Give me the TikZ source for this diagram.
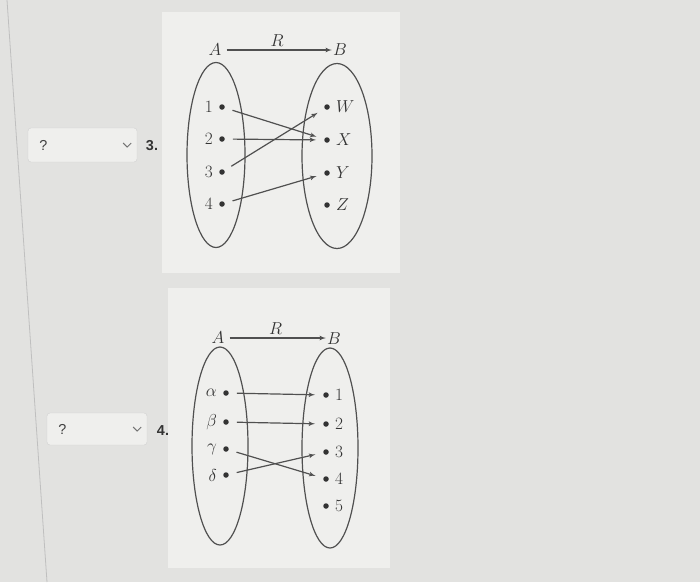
\documentclass[tikz,border=0pt]{standalone}
\usepackage{fontspec}
\newfontfamily\uifont{Liberation Sans}
\usetikzlibrary{shapes,arrows,positioning}

\definecolor{pagebg}{HTML}{E2E2E0}
\definecolor{cardbg}{HTML}{EFEFED}
\definecolor{inkgray}{HTML}{505050}

\begin{document}
\begin{tikzpicture}[x=1pt, y=-1pt,
    card/.style={rectangle, fill=cardbg, inner sep=0pt},
    set/.style={ellipse, draw=inkgray, line width=1.2pt, inner sep=0pt},
    elem/.style={circle, fill=black!80, inner sep=0pt, minimum size=5.5pt},
    setname/.style={font=\LARGE, text=black!80, inner sep=1pt},
    dropdown/.style={rectangle, draw=black!18, fill=cardbg, rounded corners=3pt, inner sep=0pt},
    arrow/.style={draw=inkgray, line width=1.2pt, -latex', shorten <=8pt, shorten >=8pt},
    every label/.style={font=\LARGE, text=black!80, inner sep=1pt},
    label distance=5pt]

    % Page background and the left border of the sheet
    \fill [pagebg] (0,0) rectangle (700,582);
    \useasboundingbox (0,0) rectangle (700,582);
    \draw [black!25, line width=0.8pt] (7,0) -- (47,582);

    % Cards holding the two pictures
    \node [card, minimum width=238pt, minimum height=261pt] (card3) at (281,142.5) {};
    \node [card, minimum width=222pt, minimum height=280pt] (card4) at (279,428) {};

    % Dropdown for question 3
    \node [dropdown, minimum width=109pt, minimum height=34pt] (drop3) at (82.5,145) {};
    \node [right=8pt of drop3.west, font=\uifont\Large, text=black!75] (ask3) {?};
    \draw [black!55, line width=1pt] (drop3.east) ++(-14,-2) -- ++(4,4) -- ++(4,-4);
    \node [font=\uifont\Large\bfseries, text=black!80] (num3) at (152,146) {3.};

    % Dropdown for question 4
    \node [dropdown, minimum width=100pt, minimum height=32pt] (drop4) at (97,429) {};
    \node [right=8pt of drop4.west, font=\uifont\Large, text=black!75] (ask4) {?};
    \draw [black!55, line width=1pt] (drop4.east) ++(-14,-2) -- ++(4,4) -- ++(4,-4);
    \node [font=\uifont\Large\bfseries, text=black!80] (num4) at (163,431) {4.};

    % Relation 3: sets A and B
    \node [setname] (A3) at (215,50) {$A$};
    \node [setname] (B3) at (340,50) {$B$};
    \draw [draw=inkgray, line width=1.2pt, -latex', shorten <=4pt] (A3) -- node [midway, above, font=\LARGE, text=black!80] {$R$} (B3);
    \node [set, minimum width=58pt, minimum height=185pt] (setA3) at (216,155) {};
    \node [set, minimum width=70pt, minimum height=185pt] (setB3) at (337,156) {};

    % Relation 3: elements
    \node [elem, label=left:$1$] (a1) at (222,107) {};
    \node [elem, label=left:$2$] (a2) at (222,139) {};
    \node [elem, label=left:$3$] (a3) at (222,172) {};
    \node [elem, label=left:$4$] (a4) at (222,204) {};
    \node [elem, label=right:$W$] (bW) at (327,107) {};
    \node [elem, label=right:$X$] (bX) at (327,140) {};
    \node [elem, label=right:$Y$] (bY) at (327,173) {};
    \node [elem, label=right:$Z$] (bZ) at (327,205) {};

    % Relation 3: pairs
    \draw [arrow] (a1) -- (bX);
    \draw [arrow] (a2) -- (bX);
    \draw [arrow] (a3) -- (bW);
    \draw [arrow] (a4) -- (bY);

    % Relation 4: sets A and B
    \node [setname] (A4) at (218,338) {$A$};
    \node [setname] (B4) at (334,339) {$B$};
    \draw [draw=inkgray, line width=1.2pt, -latex', shorten <=4pt] (A4.east) -- node [midway, above, font=\LARGE, text=black!80] {$R$} (A4.east -| B4.west);
    \node [set, minimum width=56pt, minimum height=198pt] (setA4) at (220,446) {};
    \node [set, minimum width=56pt, minimum height=200pt] (setB4) at (330,448) {};

    % Relation 4: elements
    \node [elem, label=left:$\alpha$] (x1) at (226,393) {};
    \node [elem, label=left:$\beta$] (x2) at (226,422) {};
    \node [elem, label=left:$\gamma$] (x3) at (226,449) {};
    \node [elem, label=left:$\delta$] (x4) at (226,475) {};
    \node [elem, label=right:$1$] (y1) at (326,395) {};
    \node [elem, label=right:$2$] (y2) at (326,424) {};
    \node [elem, label=right:$3$] (y3) at (326,452) {};
    \node [elem, label=right:$4$] (y4) at (326,479) {};
    \node [elem, label=right:$5$] (y5) at (326,506) {};

    % Relation 4: pairs
    \draw [arrow] (x1) -- (y1);
    \draw [arrow] (x2) -- (y2);
    \draw [arrow] (x3) -- (y4);
    \draw [arrow] (x4) -- (y3);
\end{tikzpicture}
\end{document}
